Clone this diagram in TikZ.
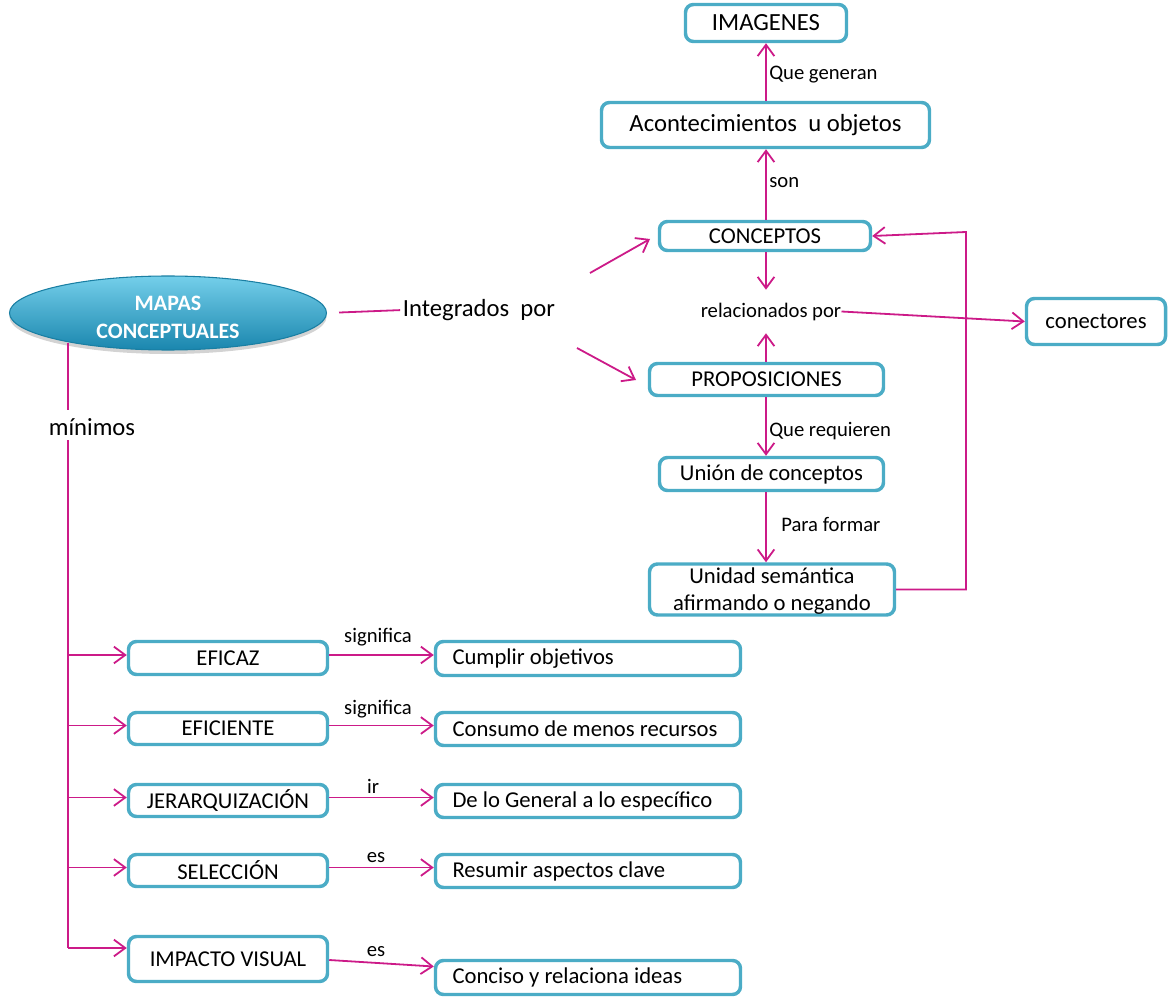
\documentclass[tikz,border=0pt]{standalone}
\usepackage{fontspec}
\setmainfont{Carlito}
\usetikzlibrary{arrows.meta,shapes.geometric,calc,shadows}
\definecolor{tealb}{HTML}{4BACC6}
\definecolor{mag}{HTML}{CC1A88}
\definecolor{elltop}{HTML}{74CFEA}
\definecolor{ellmid}{HTML}{2AA8D2}
\definecolor{ellbot}{HTML}{1A86AE}
\definecolor{elledge}{HTML}{1A7FA3}
\begin{document}
\begin{tikzpicture}[x=0.75pt,y=-0.75pt,
  box/.style={draw=tealb, line width=2.6pt, rounded corners=6pt, fill=white, inner sep=0pt,
    font=\fontsize{17}{20}\selectfont, text=black},
  bigtxt/.style={font=\fontsize{18.5}{22}\selectfont},
  rbox/.style={box, minimum width=305*0.75pt, text width=287*0.75pt, align=flush left},
  lbox/.style={box, minimum width=199*0.75pt},
  conn/.style={draw=mag, line width=1.35pt},
  arr/.style={-{Straight Barb[length=8.5pt,width=12.5pt,line width=1.35pt]}},
  lbl/.style={font=\fontsize{15.5}{18}\selectfont, inner sep=0pt}]
\useasboundingbox (0,0) rectangle (1170,998);

% top column
\node[box, bigtxt, minimum width=161*0.75pt, minimum height=37*0.75pt] (img) at (766,23) {IMAGENES};
\node[box, bigtxt, minimum width=328*0.75pt, minimum height=45*0.75pt] (acon) at (765.5,125) {Acontecimientos\ \ u objetos};
\node[box, minimum width=211*0.75pt, minimum height=29*0.75pt] (conc) at (765,236) {CONCEPTOS};
\node[lbl, minimum height=43*0.75pt] (rel) at (771,311.5) {relacionados por};
\node[box, minimum width=234*0.75pt, minimum height=32*0.75pt] (prop) at (766.5,379.5) {PROPOSICIONES};
\node[box, minimum width=224*0.75pt, minimum height=33*0.75pt] (union) at (771.5,474) {Unión de conceptos};
\node[box, minimum width=245*0.75pt, minimum height=51*0.75pt, align=center] (unidad) at (772,589.5) {\rule{0pt}{14pt}Unidad semántica\\[0.5pt]afirmando o negando};
\node[box, minimum width=139*0.75pt, minimum height=46*0.75pt] (conect) at (1096,321.5) {conectores};

% ellipse
\node[ellipse, minimum width=317*0.75pt, minimum height=74*0.75pt,
  top color=elltop, middle color=ellmid, bottom color=ellbot,
  draw=elledge, line width=0.8pt, drop shadow={shadow xshift=0pt, shadow yshift=-3pt, opacity=0.35}] (mapas) at (168,313) {};
\node[text=white, align=center, inner sep=0pt, font=\bfseries\fontsize{16.5}{21}\selectfont] (mapastxt) at (168,317) {MAPAS\\CONCEPTUALES};

\node[bigtxt, inner sep=0pt] (integ) at (479,310) {Integrados\ \ por};
\node[bigtxt, inner sep=0pt] (minimos) at (92,427) {mínimos};

% left boxes
\node[lbox, minimum height=33*0.75pt] (eficaz) at (228,658) {EFICAZ};
\node[lbox, minimum height=32*0.75pt] (efic) at (228,728.5) {EFICIENTE};
\node[lbox, minimum height=32*0.75pt] (jer) at (228,800.5) {JERARQUIZACIÓN};
\node[lbox, minimum height=32*0.75pt] (sel) at (228,870.5) {SELECCIÓN};
\node[lbox, minimum height=45*0.75pt] (imp) at (228,959) {IMPACTO VISUAL};

% right boxes
\node[rbox, minimum height=34*0.75pt] (cumplir) at (588,658.5) {\hspace*{6pt}Cumplir objetivos};
\node[rbox, minimum height=33*0.75pt] (consumo) at (588,729) {\hspace*{6pt}Consumo de menos recursos};
\node[rbox, minimum height=33*0.75pt] (delo) at (588,801) {\hspace*{6pt}De lo General a lo específico};
\node[rbox, minimum height=33*0.75pt] (resumir) at (588,871) {\hspace*{6pt}Resumir aspectos clave};
\node[rbox, minimum height=34*0.75pt] (conciso) at (588,977.5) {\hspace*{6pt}Conciso y relaciona ideas};

% labels
\node[lbl, anchor=west] (lqg) at (769,75) {Que generan};
\node[lbl, anchor=west] (lson) at (769,183) {son};
\node[lbl, anchor=west] (lqr) at (769,431) {Que requieren};
\node[lbl, anchor=west] (lpf) at (781,524) {Para formar};
\node[lbl] (ls1) at (378,637) {significa};
\node[lbl] (ls2) at (378,709) {significa};
\node[lbl] (lir) at (373,786) {ir};
\node[lbl] (les1) at (376,858) {es};
\node[lbl] (les2) at (376,952) {es};

% coordinates
\coordinate (vx) at (766,0);
\coordinate (d1s) at (590,273);
\coordinate (d1e) at (650,239);
\coordinate (d2s) at (577,348);
\coordinate (d2e) at (636,380);
\coordinate (sp0) at (68,343);
\coordinate (sp1) at (68,410);
\coordinate (sp2) at (68,440);
\coordinate (impin) at ($(imp.west)+(0,-11)$);
\coordinate (impout) at ($(imp.east)+(0,1)$);
\coordinate (concin) at ($(conciso.west)+(0,-11)$);
\coordinate (retc) at (966,232);

% connectors top
\draw[conn, shorten <=9pt, shorten >=2pt] (mapas.east) -- (integ.west);
\draw[conn, arr] (d1s) -- (d1e);
\draw[conn, arr] (d2s) -- (d2e);
\draw[conn, arr] (vx |- conc.north) -- (vx |- acon.south);
\draw[conn, arr] (vx |- acon.north) -- (vx |- img.south);
\draw[conn, arr] (vx |- conc.south) -- (vx |- rel.north);
\draw[conn, arr] (vx |- prop.north) -- (vx |- rel.south);
\draw[conn, arr] (rel.east) -- (conect.west);
\draw[conn, arr] (vx |- prop.south) -- (vx |- union.north);
\draw[conn, arr] (vx |- union.south) -- (vx |- unidad.north);
\draw[conn, arr] (unidad.east) -- (unidad.east -| retc) -- (retc) -- (conc.east);

% spine
\draw[conn] (sp0) -- (sp1);
\draw[conn] (sp2) -- (sp2 |- impin);
\draw[conn, arr] ($(sp2 |- eficaz.west)+(0,-3)$) -- ($(eficaz.west)+(0,-3)$);
\draw[conn, arr] ($(sp2 |- efic.west)+(0,-3)$) -- ($(efic.west)+(0,-3)$);
\draw[conn, arr] ($(sp2 |- jer.west)+(0,-3)$) -- ($(jer.west)+(0,-3)$);
\draw[conn, arr] ($(sp2 |- sel.west)+(0,-3)$) -- ($(sel.west)+(0,-3)$);
\draw[conn, arr] (sp2 |- impin) -- (impin);

% right arrows
\draw[conn, arr] ($(eficaz.east)+(0,-3)$) -- ($(eficaz.east -| cumplir.west)+(0,-3)$);
\draw[conn, arr] ($(efic.east)+(0,-3)$) -- ($(efic.east -| consumo.west)+(0,-3)$);
\draw[conn, arr] ($(jer.east)+(0,-3)$) -- ($(jer.east -| delo.west)+(0,-3)$);
\draw[conn, arr] ($(sel.east)+(0,-3)$) -- ($(sel.east -| resumir.west)+(0,-3)$);
\draw[conn, arr] (impout) -- (concin);
\end{tikzpicture}
\end{document}
